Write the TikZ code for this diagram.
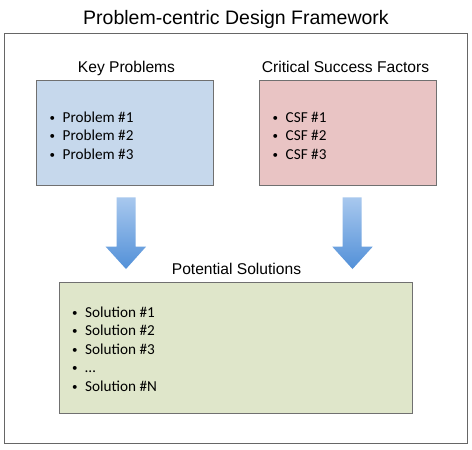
\documentclass[tikz,border=0pt]{standalone}
\usepackage{fontspec}
\setmainfont{Liberation Sans}
\newfontfamily\cali{Carlito}
\usetikzlibrary{shadows}
\definecolor{framegray}{HTML}{666666}
\definecolor{kpfill}{HTML}{C6D8EC}
\definecolor{csffill}{HTML}{E9C4C4}
\definecolor{solfill}{HTML}{DFE6CA}
\definecolor{boxedge}{HTML}{707070}
\definecolor{arrtop}{HTML}{A8C8EE}
\definecolor{arrbot}{HTML}{5290D8}
\tikzset{
  x=1pt, y=-1pt,
  panel/.style={draw=boxedge, line width=0.9pt, drop shadow={shadow xshift=1.2pt, shadow yshift=-1.2pt, opacity=0.35}},
  heading/.style={anchor=base, inner sep=0pt, font=\fontsize{15.6}{18}\selectfont},
  bullets/.style={anchor=base west, inner sep=0pt, align=left, font=\cali\fontsize{15.2}{18.6}\selectfont},
  bigarrow/.style={top color=arrtop, bottom color=arrbot, draw=none}
}
\newcommand{\bul}{\makebox[13pt][l]{\raisebox{1pt}{\fontsize{11}{11}\selectfont\textbullet}}}
\begin{document}
\begin{tikzpicture}
\useasboundingbox (0,0) rectangle (472,450);
% title
\node[anchor=base, inner sep=0pt, font=\fontsize{19.5}{22}\selectfont] (title) at (236,24) {Problem-centric Design Framework};
% outer frame
\draw[draw=framegray, line width=0.9pt, drop shadow={shadow xshift=1pt, shadow yshift=-1pt, opacity=0.3}, fill=white] (4,33) rectangle (467,443);
% boxes
\path[panel, fill=kpfill] (36,80) rectangle (213,185);
\path[panel, fill=csffill] (259,80) rectangle (436,185);
\path[panel, fill=solfill] (59,282) rectangle (412,413);
% headings
\node[heading] (kph) at (126.5,72) {Key Problems};
\node[heading] (csfh) at (345.5,72) {Critical Success Factors};
\node[heading] (solh) at (236.5,274) {Potential Solutions};
% bullet lists (anchored at the baseline of their last line)
\node[bullets] (kpl) at (49.5,159.2) {\bul Problem \#1\\\bul Problem \#2\\\bul Problem \#3};
\node[bullets] (csfl) at (272.5,159.2) {\bul CSF \#1\\\bul CSF \#2\\\bul CSF \#3};
\node[bullets] (soll) at (72,391.4) {\bul Solution \#1\\\bul Solution \#2\\\bul Solution \#3\\\bul …\\\bul Solution \#N};
% arrows
\path[bigarrow] (116.7,197.3) -- (135.7,197.3) -- (135.7,246.7) -- (146,246.7) -- (126,269) -- (105.7,246.7) -- (116.7,246.7) -- cycle;
\path[bigarrow] (342.5,197.3) -- (361.7,197.3) -- (361.7,246.7) -- (372.7,246.7) -- (352.5,269) -- (332.3,246.7) -- (342.5,246.7) -- cycle;
\end{tikzpicture}
\end{document}
